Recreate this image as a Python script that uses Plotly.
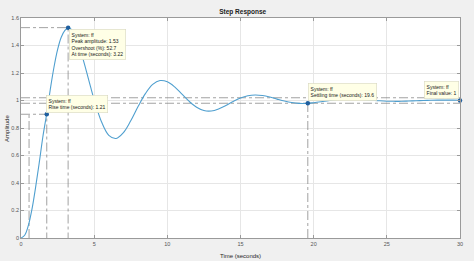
import plotly.graph_objects as go

# Step response samples (time in s, amplitude)
t = [0.0, 0.25, 0.5, 0.75, 1.0, 1.25, 1.5, 1.75, 2.0, 2.25, 2.5, 2.75, 3.0, 3.25, 3.5, 3.75,
     4.0, 4.25, 4.5, 4.75, 5.0, 5.5, 6.0, 6.5, 7.0, 7.5, 8.0, 8.5, 9.0, 9.5, 10.0, 10.5,
     11.0, 11.5, 12.0, 12.5, 13.0, 13.5, 14.0, 14.5, 15.0, 15.5, 16.0, 16.5, 17.0, 17.5,
     18.0, 18.5, 19.0, 19.5, 20.0, 20.5, 21.0, 21.5, 22.0, 22.5, 23.0, 23.5, 24.0, 24.5,
     25.0, 25.5, 26.0, 26.5, 27.0, 27.5, 28.0, 28.5, 29.0, 29.5, 30.0]
y = [0.0, 0.02, 0.09, 0.21, 0.37, 0.55, 0.74, 0.9, 1.08, 1.24, 1.37, 1.46, 1.51, 1.53, 1.51, 1.46,
     1.385, 1.297, 1.201, 1.101, 1.006, 0.845, 0.747, 0.724, 0.766, 0.852, 0.956, 1.05, 1.117, 1.145, 1.136, 1.099,
     1.046, 0.993, 0.951, 0.927, 0.924, 0.939, 0.964, 0.993, 1.018, 1.034, 1.04, 1.036, 1.025, 1.01,
     0.996, 0.985, 0.979, 0.979, 0.984, 0.991, 0.999, 1.006, 1.01, 1.011, 1.01, 1.006, 1.002, 0.998,
     0.995, 0.994, 0.994, 0.996, 0.998, 1.0, 1.002, 1.003, 1.003, 1.003, 1.002]

# Characteristics
rise_start = 0.55
rise_end = 1.76
rise_level = 0.9
rise_time = 1.21
peak_time = 3.22
peak_amp = 1.53
overshoot = 52.7
settle_time = 19.6
settle_amp = 0.98
settle_band = [0.98, 1.02]
final_time = 30
final_value = 1

x_ticks = [0, 5, 10, 15, 20, 25, 30]
y_ticks = [0, 0.2, 0.4, 0.6, 0.8, 1, 1.2, 1.4, 1.6]
y_tick_text = ["0", "0.2", "0.4", "0.6", "0.8", "1", "1.2", "1.4", "1.6"]

curve_col = "#4f9fcf"
mark_col = "#1f5f9f"
ref_col = "#7a7a7a"
font_fam = "Liberation Sans, Arial, sans-serif"
ref_line = dict(color=ref_col, width=0.7, dash="dashdot")

fig = go.Figure()

# settling band lines
for b in settle_band:
    fig.add_trace(go.Scatter(x=[0, final_time], y=[b, b], mode="lines", line=ref_line,
                             hoverinfo="skip", showlegend=False))
# peak reference lines
fig.add_trace(go.Scatter(x=[0, peak_time, peak_time], y=[peak_amp, peak_amp, 0], mode="lines",
                         line=ref_line, hoverinfo="skip", showlegend=False))
# rise time reference lines
fig.add_trace(go.Scatter(x=[rise_start, rise_start], y=[0, rise_level], mode="lines",
                         line=ref_line, hoverinfo="skip", showlegend=False))
fig.add_trace(go.Scatter(x=[0, rise_end, rise_end], y=[rise_level, rise_level, 0], mode="lines",
                         line=ref_line, hoverinfo="skip", showlegend=False))
# settling vertical
fig.add_trace(go.Scatter(x=[settle_time, settle_time], y=[0, settle_amp], mode="lines",
                         line=ref_line, hoverinfo="skip", showlegend=False))

# response curve
fig.add_trace(go.Scatter(x=t, y=y, mode="lines", line=dict(color=curve_col, width=1.1, shape="spline"),
                         showlegend=False))

# markers
fig.add_trace(go.Scatter(x=[rise_end, peak_time, settle_time, final_time],
                         y=[rise_level, peak_amp, settle_amp, final_value],
                         mode="markers", marker=dict(color=mark_col, size=4.5),
                         showlegend=False, cliponaxis=False))

box = dict(bgcolor="#ffffe6", bordercolor="#d8d8c0", borderwidth=0.6, borderpad=2,
           font=dict(family=font_fam, size=5, color="#202020"), showarrow=False,
           align="left", xref="x", yref="y")

fig.add_annotation(x=peak_time, y=peak_amp, xanchor="left", yanchor="top", xshift=1, yshift=-1,
                   text=f"System: ff<br>Peak amplitude: {peak_amp}<br>Overshoot (%): {overshoot}<br>At time (seconds): {peak_time}",
                   **box)
fig.add_annotation(x=rise_end, y=rise_level, xanchor="left", yanchor="bottom", xshift=-1, yshift=1,
                   text=f"System: ff<br>Rise time (seconds): {rise_time}", **box)
fig.add_annotation(x=settle_time, y=settle_amp, xanchor="left", yanchor="bottom", xshift=0, yshift=2,
                   text=f"System: ff<br>Settling time (seconds): {settle_time}", **box)
fig.add_annotation(x=final_time, y=final_value, xanchor="right", yanchor="bottom", xshift=-1, yshift=2,
                   text=f"System: ff<br>Final value: {final_value}", **box)

# axis titles
fig.add_annotation(text="Time (seconds)", xref="paper", yref="paper", x=0.5, y=-0.058,
                   yanchor="top", showarrow=False, font=dict(family=font_fam, size=6, color="#262626"))
fig.add_annotation(text="Amplitude", xref="paper", yref="paper", x=-0.032, y=0.5, xanchor="center",
                   textangle=-90, showarrow=False, font=dict(family=font_fam, size=6, color="#262626"))

axis_common = dict(showgrid=True, gridcolor="#e6e6e6", gridwidth=0.8, zeroline=False,
                   showline=True, linecolor="#9a9a9a", linewidth=0.8, mirror="ticks",
                   ticks="inside", ticklen=3, tickcolor="#9a9a9a",
                   tickfont=dict(family=font_fam, size=5.5, color="#555555"))

fig.update_xaxes(range=[0, 30], tickvals=x_ticks, ticktext=[str(v) for v in x_ticks], **axis_common)
fig.update_yaxes(range=[0, 1.6], tickvals=y_ticks, ticktext=y_tick_text, **axis_common)

fig.update_layout(
    width=474, height=261,
    margin=dict(l=20, r=11, t=18, b=23),
    paper_bgcolor="#f0f0f0", plot_bgcolor="#ffffff",
    title=dict(text="<b>Step Response</b>", x=0.512, xanchor="center", y=1 - 12 / 261,
               yanchor="middle", font=dict(family=font_fam, size=6.5, color="#222222")),
    showlegend=False,
)

fig.write_html("out.html")
